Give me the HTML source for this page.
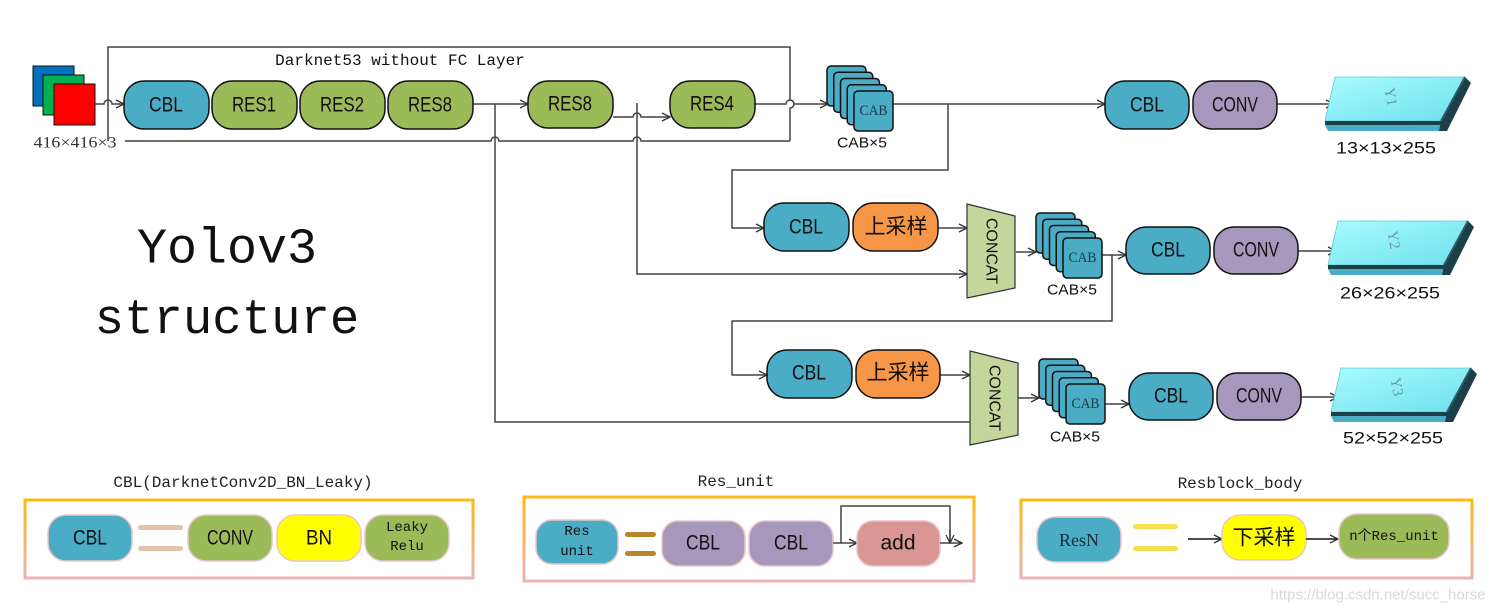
<!DOCTYPE html>
<html><head><meta charset="utf-8"><style>
html,body{margin:0;padding:0;background:#fff;}
svg{display:block;}
text{font-family:"Liberation Sans","Noto Sans CJK SC",sans-serif;}
.n{font-size:21px;text-anchor:middle;dominant-baseline:central;fill:#111;}
.s{font-family:"Liberation Serif","Noto Serif CJK SC",serif;}
.m{font-family:"Liberation Mono","Noto Sans CJK SC",monospace;}
.ln{fill:none;stroke:#444;stroke-width:1.5;}
.bx{stroke:#111;stroke-width:1.5;}
</style></head><body>
<svg width="1502" height="611" viewBox="0 0 1502 611" xmlns="http://www.w3.org/2000/svg">
<defs>
<marker id="a" markerWidth="10" markerHeight="10" refX="9" refY="5" orient="auto" markerUnits="userSpaceOnUse">
<path d="M1,1 L9,5 L1,9" fill="none" stroke="#333" stroke-width="1.3"/></marker>
<linearGradient id="ob" x1="0" y1="0" x2="0" y2="1"><stop offset="0" stop-color="#fdb913"/><stop offset="1" stop-color="#e8b4b4"/></linearGradient>
<linearGradient id="cy" x1="0" y1="0" x2="1" y2="1"><stop offset="0" stop-color="#a8fbff"/><stop offset="1" stop-color="#6ee0ee"/></linearGradient>
<g id="cab">
<rect x="0" y="0" width="39" height="40" rx="4" fill="#4bacc6" stroke="#111" stroke-width="1.5"/>
<rect x="6.75" y="6.25" width="39" height="40" rx="4" fill="#4bacc6" stroke="#111" stroke-width="1.5"/>
<rect x="13.5" y="12.5" width="39" height="40" rx="4" fill="#4bacc6" stroke="#111" stroke-width="1.5"/>
<rect x="20.25" y="18.75" width="39" height="40" rx="4" fill="#4bacc6" stroke="#111" stroke-width="1.5"/>
<rect x="27" y="25" width="39" height="40" rx="4" fill="#4bacc6" stroke="#111" stroke-width="1.5"/>
<text x="46.5" y="45" class="s" font-size="15" text-anchor="middle" dominant-baseline="central" fill="#1a3a44" textLength="28" lengthAdjust="spacingAndGlyphs">CAB</text>
</g>
<g id="slab">
<polygon points="10,0 140,0 116,44 0,44" fill="url(#cy)" stroke="#5cc" stroke-width="0.8"/>
<polygon points="0,44 116,44 116,48 0,48" fill="#1d3f47"/>
<polygon points="0,48 116,48 114,54 3,54" fill="#4bacc6"/>
<polygon points="140,0 146,6 122,54 114,54 116,44" fill="#1d3f47"/>
<line x1="140" y1="0" x2="116" y2="44" stroke="#2a5e66" stroke-width="2"/>
</g>
</defs>

<!-- input -->
<rect x="33" y="66" width="41" height="40" fill="#0070c0" stroke="#111"/>
<rect x="43" y="75" width="41" height="40" fill="#00b050" stroke="#111"/>
<rect x="54" y="84" width="41" height="41" fill="#ff0000" stroke="#111"/>
<text x="75" y="143" class="s" font-size="16" text-anchor="middle" dominant-baseline="central" fill="#333" textLength="83" lengthAdjust="spacingAndGlyphs">416×416×3</text>

<!-- darknet box -->
<path class="ln" d="M108,141 L108,47 L790,47 L790,100 A4,4 0 0 1 790,108 L790,141"/>
<text x="400" y="61" class="m" font-size="16" text-anchor="middle" dominant-baseline="central" fill="#111">Darknet53 without FC Layer</text>

<!-- connectors -->
<path class="ln" d="M95,104 L104,104 A4,4 0 0 1 112,104 L124,104" marker-end="url(#a)"/>
<path class="ln" d="M125,141 L491,141 A4,4 0 0 1 499,141 L633,141 A4,4 0 0 1 641,141 L790,141"/>
<path class="ln" d="M473,104 L528,104" marker-end="url(#a)"/>
<path class="ln" d="M495,104 L495,422 L970,422"/>
<path class="ln" d="M613,117 L633,117 A4,4 0 0 1 641,117 L670,117" marker-end="url(#a)"/>
<path class="ln" d="M637,103 L637,274 L967,274" marker-end="url(#a)"/>
<path class="ln" d="M755,104 L786,104 A4,4 0 0 1 794,104 L828,104" marker-end="url(#a)"/>
<path class="ln" d="M893,104 L1105,104" marker-end="url(#a)"/>
<path class="ln" d="M948,104 L948,170 L732,170 L732,228 L764,228" marker-end="url(#a)"/>
<path class="ln" d="M938,228 L967,228" marker-end="url(#a)"/>
<path class="ln" d="M1016,252 L1036,252" marker-end="url(#a)"/>
<path class="ln" d="M1102,255 L1126,255" marker-end="url(#a)"/>
<path class="ln" d="M1112,255 L1112,321 L732,321 L732,375 L767,375" marker-end="url(#a)"/>
<path class="ln" d="M940,375 L970,375" marker-end="url(#a)"/>
<path class="ln" d="M1018,398 L1039,398" marker-end="url(#a)"/>
<path class="ln" d="M1105,404 L1129,404" marker-end="url(#a)"/>
<path class="ln" d="M1277,104 L1334,104" marker-end="url(#a)"/>
<path class="ln" d="M1298,251 L1336,251" marker-end="url(#a)"/>
<path class="ln" d="M1301,397 L1338,397" marker-end="url(#a)"/>

<!-- top row -->
<rect x="124" y="81" width="85" height="48" rx="20" fill="#4bacc6" class="bx"/><text x="166" y="105" class="n" textLength="34" lengthAdjust="spacingAndGlyphs">CBL</text>
<rect x="212" y="81" width="85" height="48" rx="20" fill="#9bbb59" class="bx"/><text x="254" y="105" class="n" textLength="44" lengthAdjust="spacingAndGlyphs">RES1</text>
<rect x="300" y="81" width="85" height="48" rx="20" fill="#9bbb59" class="bx"/><text x="342" y="105" class="n" textLength="44" lengthAdjust="spacingAndGlyphs">RES2</text>
<rect x="388" y="81" width="85" height="48" rx="20" fill="#9bbb59" class="bx"/><text x="430" y="105" class="n" textLength="44" lengthAdjust="spacingAndGlyphs">RES8</text>
<rect x="528" y="81" width="85" height="47" rx="20" fill="#9bbb59" class="bx"/><text x="570" y="104" class="n" textLength="44" lengthAdjust="spacingAndGlyphs">RES8</text>
<rect x="670" y="81" width="85" height="47" rx="20" fill="#9bbb59" class="bx"/><text x="712" y="104" class="n" textLength="44" lengthAdjust="spacingAndGlyphs">RES4</text>

<use href="#cab" x="827" y="66"/>
<text x="862" y="143" font-size="15" text-anchor="middle" dominant-baseline="central" fill="#111" textLength="50" lengthAdjust="spacingAndGlyphs">CAB×5</text>
<rect x="1105" y="81" width="84" height="48" rx="20" fill="#4bacc6" class="bx"/><text x="1147" y="105" class="n" textLength="34" lengthAdjust="spacingAndGlyphs">CBL</text>
<rect x="1193" y="81" width="84" height="48" rx="20" fill="#a797bd" class="bx"/><text x="1235" y="105" class="n" textLength="46" lengthAdjust="spacingAndGlyphs">CONV</text>
<use href="#slab" x="1325" y="77"/>
<text x="1390" y="97" class="s" font-size="15" fill="#6a9a9e" text-anchor="middle" dominant-baseline="central" transform="rotate(80 1390 97)">Y1</text>
<text x="1386" y="148" font-size="17" text-anchor="middle" dominant-baseline="central" fill="#111" textLength="100" lengthAdjust="spacingAndGlyphs">13×13×255</text>

<!-- row 2 -->
<rect x="764" y="203" width="85" height="48" rx="20" fill="#4bacc6" class="bx"/><text x="806" y="227" class="n" textLength="34" lengthAdjust="spacingAndGlyphs">CBL</text>
<rect x="853" y="203" width="85" height="48" rx="20" fill="#f79646" class="bx"/><text x="896" y="227" class="n" font-size="22">上采样</text>
<polygon points="967,204 1015,216 1015,288 967,298" fill="#c3d69b" stroke="#333" stroke-width="1.2"/>
<text x="991" y="251" font-size="16" text-anchor="middle" dominant-baseline="central" fill="#111" transform="rotate(90 991 251)">CONCAT</text>
<use href="#cab" x="1036" y="213"/>
<text x="1072" y="290" font-size="15" text-anchor="middle" dominant-baseline="central" fill="#111" textLength="50" lengthAdjust="spacingAndGlyphs">CAB×5</text>
<rect x="1126" y="227" width="84" height="47" rx="20" fill="#4bacc6" class="bx"/><text x="1168" y="250" class="n" textLength="34" lengthAdjust="spacingAndGlyphs">CBL</text>
<rect x="1214" y="227" width="84" height="47" rx="20" fill="#a797bd" class="bx"/><text x="1256" y="250" class="n" textLength="46" lengthAdjust="spacingAndGlyphs">CONV</text>
<use href="#slab" x="1328" y="221"/>
<text x="1393" y="240" class="s" font-size="15" fill="#6a9a9e" text-anchor="middle" dominant-baseline="central" transform="rotate(80 1393 240)">Y2</text>
<text x="1390" y="293" font-size="17" text-anchor="middle" dominant-baseline="central" fill="#111" textLength="100" lengthAdjust="spacingAndGlyphs">26×26×255</text>

<!-- row 3 -->
<rect x="767" y="350" width="85" height="48" rx="20" fill="#4bacc6" class="bx"/><text x="809" y="373" class="n" textLength="34" lengthAdjust="spacingAndGlyphs">CBL</text>
<rect x="856" y="350" width="84" height="48" rx="20" fill="#f79646" class="bx"/><text x="898" y="373" class="n" font-size="22">上采样</text>
<polygon points="970,351 1018,363 1018,435 970,445" fill="#c3d69b" stroke="#333" stroke-width="1.2"/>
<text x="994" y="398" font-size="16" text-anchor="middle" dominant-baseline="central" fill="#111" transform="rotate(90 994 398)">CONCAT</text>
<use href="#cab" x="1039" y="359"/>
<text x="1075" y="437" font-size="15" text-anchor="middle" dominant-baseline="central" fill="#111" textLength="50" lengthAdjust="spacingAndGlyphs">CAB×5</text>
<rect x="1129" y="373" width="84" height="47" rx="20" fill="#4bacc6" class="bx"/><text x="1171" y="396" class="n" textLength="34" lengthAdjust="spacingAndGlyphs">CBL</text>
<rect x="1217" y="373" width="84" height="47" rx="20" fill="#a797bd" class="bx"/><text x="1259" y="396" class="n" textLength="46" lengthAdjust="spacingAndGlyphs">CONV</text>
<use href="#slab" x="1331" y="368"/>
<text x="1396" y="387" class="s" font-size="15" fill="#6a9a9e" text-anchor="middle" dominant-baseline="central" transform="rotate(80 1396 387)">Y3</text>
<text x="1393" y="438" font-size="17" text-anchor="middle" dominant-baseline="central" fill="#111" textLength="100" lengthAdjust="spacingAndGlyphs">52×52×255</text>

<!-- title -->
<text x="227" y="250" class="m" font-size="50" text-anchor="middle" dominant-baseline="central" fill="#111">Yolov3</text>
<text x="227" y="320" class="m" font-size="49" text-anchor="middle" dominant-baseline="central" fill="#111">structure</text>

<!-- legend 1 -->
<text x="243" y="483" class="m" font-size="16" text-anchor="middle" dominant-baseline="central" fill="#222">CBL(DarknetConv2D_BN_Leaky)</text>
<rect x="25" y="500" width="448" height="78" fill="none" stroke="url(#ob)" stroke-width="3"/>
<rect x="48" y="515" width="84" height="46" rx="18" fill="#4bacc6" stroke="#e9c6c6" stroke-width="1.5"/><text x="90" y="538" class="n" textLength="34" lengthAdjust="spacingAndGlyphs">CBL</text>
<rect x="138" y="525" width="45" height="5" rx="2.5" fill="#e6c3a8"/><rect x="138" y="546" width="45" height="5" rx="2.5" fill="#e6c3a8"/>
<rect x="188" y="515" width="84" height="46" rx="18" fill="#9bbb59" stroke="#e9c6c6" stroke-width="1.5"/><text x="230" y="538" class="n" textLength="46" lengthAdjust="spacingAndGlyphs">CONV</text>
<rect x="277" y="515" width="84" height="46" rx="18" fill="#ffff00" stroke="#e9c6c6" stroke-width="1.5"/><text x="319" y="538" class="n" textLength="26" lengthAdjust="spacingAndGlyphs">BN</text>
<rect x="365" y="515" width="84" height="46" rx="18" fill="#9bbb59" stroke="#e9c6c6" stroke-width="1.5"/>
<text x="407" y="528" class="m" font-size="14" text-anchor="middle" dominant-baseline="central" fill="#111">Leaky</text>
<text x="407" y="547" class="m" font-size="14" text-anchor="middle" dominant-baseline="central" fill="#111">Relu</text>

<!-- legend 2 -->
<text x="736" y="482" class="m" font-size="16" text-anchor="middle" dominant-baseline="central" fill="#222">Res_unit</text>
<rect x="524" y="497" width="450" height="84" fill="none" stroke="url(#ob)" stroke-width="3"/>
<rect x="536" y="520" width="82" height="44" rx="16" fill="#4bacc6" stroke="#e9c6c6" stroke-width="1.5"/>
<text x="577" y="532" class="m" font-size="14" text-anchor="middle" dominant-baseline="central" fill="#111">Res</text>
<text x="577" y="552" class="m" font-size="14" text-anchor="middle" dominant-baseline="central" fill="#111">unit</text>
<rect x="625" y="532" width="31" height="5" rx="2.5" fill="#b8862b"/><rect x="625" y="551" width="31" height="5" rx="2.5" fill="#b8862b"/>
<rect x="662" y="521" width="83" height="45" rx="16" fill="#a797bd" stroke="#e9c6c6" stroke-width="1.5"/><text x="703" y="543" class="n" textLength="34" lengthAdjust="spacingAndGlyphs">CBL</text>
<rect x="749" y="521" width="84" height="45" rx="16" fill="#a797bd" stroke="#e9c6c6" stroke-width="1.5"/><text x="791" y="543" class="n" textLength="34" lengthAdjust="spacingAndGlyphs">CBL</text>
<path class="ln" d="M833,543 L857,543" marker-end="url(#a)"/>
<path class="ln" d="M841,543 L841,506 L950,506 L950,543"/>
<rect x="857" y="521" width="83" height="45" rx="16" fill="#d99694" stroke="#e9c6c6" stroke-width="1.5"/><text x="898" y="543" class="n" font-size="17">add</text>
<path class="ln" d="M940,543 L962,543" marker-end="url(#a)"/>
<path class="ln" d="M950,530 L950,543" marker-end="url(#a)"/>

<!-- legend 3 -->
<text x="1240" y="484" class="m" font-size="16" text-anchor="middle" dominant-baseline="central" fill="#222">Resblock_body</text>
<rect x="1021" y="500" width="451" height="78" fill="none" stroke="url(#ob)" stroke-width="3"/>
<rect x="1037" y="517" width="84" height="45" rx="18" fill="#4bacc6" stroke="#e9c6c6" stroke-width="1.5"/>
<text x="1079" y="540" class="s" font-size="18" text-anchor="middle" dominant-baseline="central" fill="#1a2e36">ResN</text>
<rect x="1133" y="524" width="45" height="5" rx="2.5" fill="#f5e050"/><rect x="1133" y="546" width="45" height="5" rx="2.5" fill="#f5e050"/>
<path class="ln" d="M1188,539 L1222,539" marker-end="url(#a)" style="stroke:#111"/>
<rect x="1222" y="515" width="84" height="45" rx="18" fill="#ffff00" stroke="#e9c6c6" stroke-width="1.5"/><text x="1264" y="538" class="n" font-size="22">下采样</text>
<path class="ln" d="M1306,539 L1338,539" marker-end="url(#a)" style="stroke:#111"/>
<rect x="1339" y="514" width="110" height="45" rx="18" fill="#9bbb59" stroke="#e9c6c6" stroke-width="1.5"/>
<text x="1394" y="537" class="m" font-size="14" text-anchor="middle" dominant-baseline="central" fill="#111">n个Res_unit</text>

<text x="1378" y="595" font-size="15" text-anchor="middle" dominant-baseline="central" fill="#d8d8d8">https://blog.csdn.net/succ_horse</text>
</svg>
</body></html>
